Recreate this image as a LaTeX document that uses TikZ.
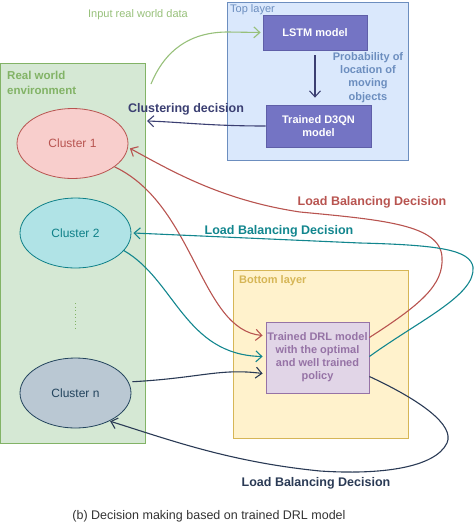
\documentclass[tikz,border=0pt]{standalone}
\usepackage{fontspec}
\setmainfont{Liberation Sans}
\usetikzlibrary{shapes.geometric,arrows.meta}
\definecolor{envfill}{HTML}{D5E8D4}
\definecolor{envdraw}{HTML}{82B366}
\definecolor{inputgreen}{HTML}{97C07A}
\definecolor{topfill}{HTML}{DAE8FC}
\definecolor{topdraw}{HTML}{6C8EBF}
\definecolor{modelfill}{HTML}{7474C4}
\definecolor{modeldraw}{HTML}{5F5FA8}
\definecolor{navy}{HTML}{3B3F72}
\definecolor{redc}{HTML}{B85450}
\definecolor{tealc}{HTML}{12868E}
\definecolor{c1fill}{HTML}{F8CECC}
\definecolor{c2fill}{HTML}{B0E3E6}
\definecolor{c2draw}{HTML}{0E8088}
\definecolor{cnfill}{HTML}{BAC8D3}
\definecolor{cndraw}{HTML}{23445D}
\definecolor{botfill}{HTML}{FFF2CC}
\definecolor{botdraw}{HTML}{D6B656}
\definecolor{drlfill}{HTML}{E1D5E7}
\definecolor{drldraw}{HTML}{9673A6}
\definecolor{slate}{HTML}{2A3A55}
\definecolor{captc}{HTML}{333333}
\begin{document}
\begin{tikzpicture}[x=1pt,y=-1pt,
  cluster/.style={ellipse, draw, line width=0.8pt, minimum width=111pt, minimum height=70pt, inner sep=0pt, font=\fontsize{12}{14}\selectfont},
  layer/.style={draw, line width=1pt, inner sep=0pt},
  model/.style={draw, fill=modelfill, draw=modeldraw, line width=0.8pt, text=white, inner sep=0pt, align=center, font=\bfseries\fontsize{11}{13.5}\selectfont},
  conn/.style={line width=1.1pt, -{Straight Barb[length=6pt,width=11pt]}},
  biglbl/.style={inner sep=0pt, font=\bfseries\fontsize{12.5}{15}\selectfont},
  smalllbl/.style={inner sep=0pt, font=\fontsize{11}{13}\selectfont}
]
\useasboundingbox (0,0) rectangle (474,523);

% containers
\node[layer, fill=envfill, draw=envdraw, minimum width=145pt, minimum height=380pt] (env) at (72.5,253) {};
\node[layer, fill=topfill, draw=topdraw, minimum width=181pt, minimum height=158pt] (top) at (317.5,81) {};
\node[layer, fill=botfill, draw=botdraw, minimum width=175pt, minimum height=168pt] (bot) at (320.5,354) {};

% container labels
\node[inner sep=0pt, anchor=west, align=left, text=envdraw, font=\bfseries\fontsize{11.5}{15}\selectfont] (envlbl) at (7,83) {Real world\\environment};
\node[smalllbl, anchor=west, text=topdraw] (toplbl) at (230,10) {Top layer};
\node[inner sep=0pt, anchor=west, text=botdraw, font=\bfseries\fontsize{11}{13}\selectfont] (botlbl) at (239,281) {Bottom layer};
\node[smalllbl, text=inputgreen] (inlbl) at (138,15) {Input real world data};
\node[inner sep=0pt, align=center, text=topdraw, font=\bfseries\fontsize{11}{13.3}\selectfont] (problbl) at (368,77.5) {Probability of\\location of\\moving\\objects};

% models
\node[model, minimum width=104pt, minimum height=35pt] (lstm) at (315,32.5) {LSTM model};
\node[model, minimum width=105pt, minimum height=42pt] (d3qn) at (318.5,126) {Trained D3QN\\model};
\node[draw=drldraw, fill=drlfill, line width=0.8pt, inner sep=0pt, minimum width=103pt, minimum height=71pt, align=center, text=drldraw, font=\bfseries\fontsize{11}{13}\selectfont] (drl) at (317.5,357.5) {Trained DRL model\\with the optimal\\and well trained\\policy};

% clusters
\node[cluster, fill=c1fill, draw=redc, text=redc] (c1) at (72.5,143.5) {Cluster 1};
\node[cluster, fill=c2fill, draw=c2draw, text=c2draw] (c2) at (75.5,233) {Cluster 2};
\node[cluster, fill=cnfill, draw=cndraw, text=cndraw] (cn) at (75.5,393) {Cluster n};
\draw[envdraw, line width=1pt, dash pattern=on 1pt off 2.5pt] (75,303) -- (75,328);

% top layer connectors
\coordinate (inStart) at (151,84);
\draw[conn, inputgreen] (inStart) .. controls (165,50) and (190,32) .. (228,32) -- ([xshift=-2pt]lstm.west);
\draw[conn, navy] ([yshift=-5pt]lstm.south) -- ([yshift=7pt]lstm.south |- d3qn.north);
\draw[conn, navy] (d3qn.west) .. controls (210,126) and (180,122) .. ([xshift=1.5pt,yshift=132pt]env.east);
\node[biglbl, text=navy] (cdlbl) at (186,109) {Clustering decision};

% red connectors
\draw[conn, redc] (c1.-29) .. controls (195,205) and (200,330) .. ([xshift=-3pt,yshift=22pt]drl.west);
\draw[conn, redc] ([yshift=20pt]drl.east) .. controls (420,305) and (444,285) .. (442,257)
  .. controls (440,225) and (385,220) .. (300,212)
  .. controls (220,200) and (170,170) .. ([xshift=2pt]c1.-5);
\node[biglbl, text=redc] (redlbl) at (372,202) {Load Balancing Decision};

% teal connectors
\draw[conn, tealc] (c2.-20) .. controls (175,280) and (185,355) .. ([xshift=-3pt,yshift=1pt]drl.west);
\draw[conn, tealc] ([yshift=1pt]drl.east) .. controls (420,320) and (476,295) .. (473,267)
  .. controls (470,250) and (440,245) .. (360,243)
  -- ([xshift=2pt]c2.east);
\node[biglbl, text=tealc] (teallbl) at (279,231) {Load Balancing Decision};

% cluster n connectors
\draw[conn, slate] ([xshift=4pt]cn.12) .. controls (200,378) and (220,368) .. ([xshift=-3pt,yshift=-16pt]drl.west);
\draw[conn, slate] ([yshift=-19pt]drl.east) .. controls (420,400) and (455,425) .. (447,443)
  .. controls (435,468) and (380,475) .. (320,471)
  .. controls (230,462) and (170,440) .. ([xshift=1pt]cn.-40);
\node[biglbl, text=slate] (navylbl) at (316,483) {Load Balancing Decision};

% caption
\node[inner sep=0pt, text=captc, font=\fontsize{12.5}{15}\selectfont] (caption) at (209,516) {(b) Decision making based on trained DRL model};
\end{tikzpicture}
\end{document}
